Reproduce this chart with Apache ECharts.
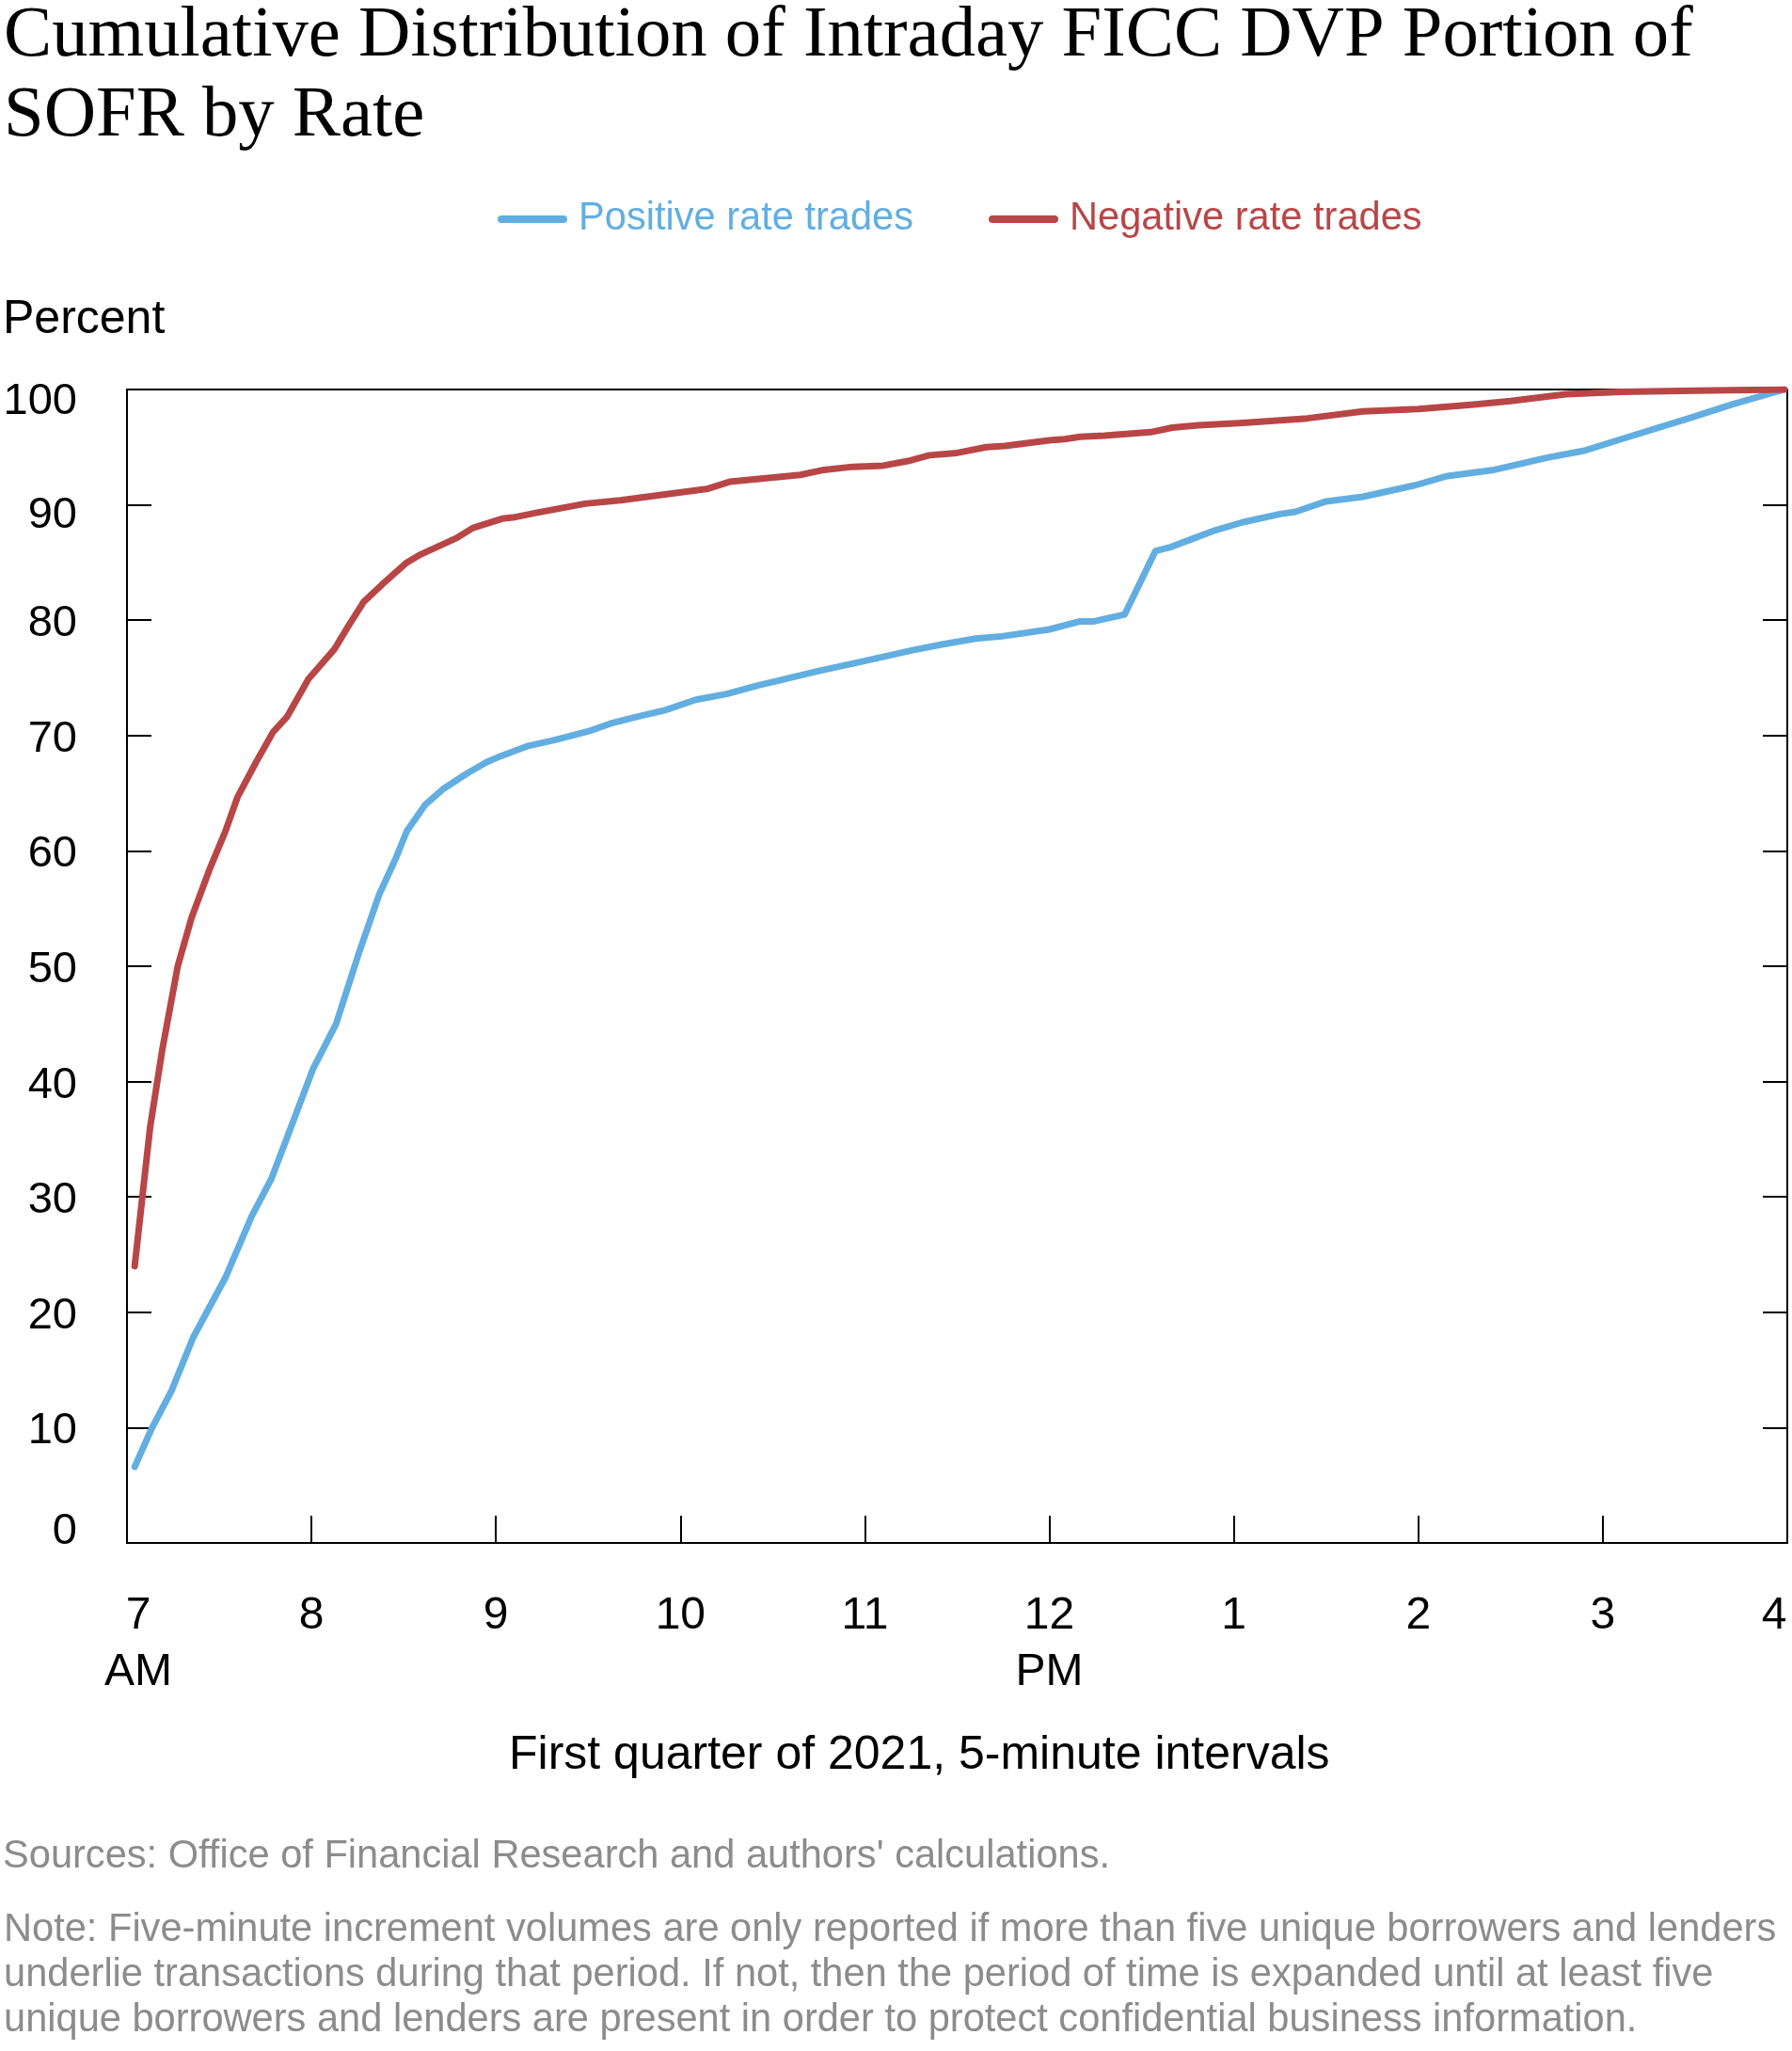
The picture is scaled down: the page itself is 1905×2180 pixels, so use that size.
<!DOCTYPE html>
<html>
<head>
<meta charset="utf-8">
<script src="https://cdn.jsdelivr.net/npm/echarts@6/dist/echarts.min.js"></script>
<style>
html,body{margin:0;padding:0;background:#fff;overflow:hidden;}
#chart{width:1905px;height:2180px;}
</style>
</head>
<body>
<div id="chart"></div>
<script>
// ---- data (minutes after 7:00 AM, cumulative percent) ----
const negTimes  = [2.5, 7.5, 11.5, 16.5, 21, 27, 32, 36, 42, 47.5, 52, 59, 67.5, 72, 77, 83, 91, 95.5, 107, 112.5, 122, 125.5, 133, 149, 160.5, 175, 189, 196, 219, 226, 236, 246, 254, 261, 270, 279.5, 285.5, 300, 305, 310, 318, 333, 340, 348.5, 363, 384, 402, 420, 438, 450, 468, 486, 510, 539];
const negValues = [24.0, 36.0, 42.8, 50.0, 54.2, 58.5, 61.7, 64.7, 67.7, 70.3, 71.6, 74.9, 77.5, 79.5, 81.6, 83.1, 85.0, 85.7, 87.1, 88.0, 88.8, 88.9, 89.3, 90.1, 90.4, 90.9, 91.4, 92.0, 92.6, 93.0, 93.3, 93.4, 93.8, 94.3, 94.5, 95.0, 95.1, 95.6, 95.7, 95.9, 96.0, 96.3, 96.7, 96.9, 97.1, 97.5, 98.1, 98.3, 98.7, 99.0, 99.6, 99.8, 99.9, 100];
const posTimes  = [2.5, 8, 14.5, 21.5, 32, 40.5, 47, 53, 60.5, 68, 75.5, 82, 87.5, 91, 97, 103, 110.5, 117, 120.5, 130.5, 139, 150.5, 158, 165.5, 175, 185, 195, 206, 211, 225, 237, 255.5, 265, 276, 284.5, 300, 310, 314.5, 324.5, 334.5, 339, 346, 354, 363, 375, 380, 390, 402, 419, 429.5, 444, 462, 474, 486, 508, 522, 539];
const posValues = [6.6, 9.9, 13.2, 17.8, 23.0, 28.3, 31.6, 35.8, 41.1, 45.0, 51.2, 56.2, 59.4, 61.7, 64.0, 65.4, 66.7, 67.7, 68.1, 69.1, 69.6, 70.4, 71.1, 71.6, 72.2, 73.1, 73.6, 74.4, 74.7, 75.6, 76.3, 77.4, 77.9, 78.4, 78.6, 79.2, 79.9, 79.9, 80.5, 86.0, 86.3, 87.0, 87.8, 88.5, 89.2, 89.4, 90.3, 90.7, 91.7, 92.5, 93.0, 94.1, 94.7, 95.7, 97.5, 98.7, 100];
const hourLabels   = ['7', '8', '9', '10', '11', '12', '1', '2', '3', '4'];
const periodLabels = ['AM', '', '', '', '', 'PM', '', '', '', ''];
const seriesNames  = ['Positive rate trades', 'Negative rate trades'];

const BLUE = '#62aee1';
const RED = '#b94646';
const GRAY = '#8c8c8c';
const SANS = 'Liberation Sans, Arial, sans-serif';
const SERIF = 'Liberation Serif, Times New Roman, serif';

const pair = (ts, vs) => ts.map((t, i) => [t, vs[i]]);

const chart = echarts.init(document.getElementById('chart'), null, {renderer: 'canvas'});

const xRich = {
  f: {fontSize: 48, fontFamily: SANS, color: '#000', lineHeight: 60, padding: [0, 0, 0, 24]},
  l: {fontSize: 48, fontFamily: SANS, color: '#000', lineHeight: 60, padding: [0, 28, 0, 0]},
  n: {fontSize: 48, fontFamily: SANS, color: '#000', lineHeight: 60}
};
const yRich = {
  t: {fontSize: 47, fontFamily: SANS, color: '#000', padding: [26, 0, 0, 0]},
  u: {fontSize: 47, fontFamily: SANS, color: '#000', padding: [22, 0, 0, 0]},
  m: {fontSize: 47, fontFamily: SANS, color: '#000', padding: [8, 0, 0, 0]},
  b: {fontSize: 47, fontFamily: SANS, color: '#000', padding: [0, 0, 24, 0]}
};

const noteLines = [
  'Note: Five-minute increment volumes are only reported if more than five unique borrowers and lenders',
  'underlie transactions during that period. If not, then the period of time is expanded until at least five',
  'unique borrowers and lenders are present in order to protect confidential business information.'
];

const option = {
  animation: false,
  backgroundColor: '#fff',
  grid: {left: 135, right: 5, top: 414, bottom: 540, outerBoundsMode: 'none', containLabel: false,
         show: true, borderColor: '#000', borderWidth: 2, backgroundColor: 'transparent'},
  legend: {
    left: 524, top: 204,
    itemWidth: 74, itemHeight: 8, itemGap: 80,
    icon: 'path://M4,0 L70,0 A4,4 0 0 1 70,8 L4,8 A4,4 0 0 1 4,0 Z',
    textStyle: {fontSize: 41.6, fontFamily: SANS, lineHeight: 48, padding: [0, 0, 0, 7]},
    data: [
      {name: seriesNames[0], textStyle: {color: BLUE}},
      {name: seriesNames[1], textStyle: {color: RED}}
    ]
  },
  xAxis: {
    type: 'value', min: 0, max: 540, interval: 60,
    axisLine: {show: false},
    axisTick: {show: true, inside: true, length: 29, lineStyle: {color: '#000', width: 2}},
    splitLine: {show: false},
    axisLabel: {
      show: true, margin: 48, showMinLabel: true, showMaxLabel: true,
      formatter: (v) => {
        const i = Math.round(v / 60);
        const s = i === 0 ? 'f' : (i === hourLabels.length - 1 ? 'l' : 'n');
        const h = hourLabels[i], p = periodLabels[i];
        return p ? '{' + s + '|' + h + '}\n{' + s + '|' + p + '}' : '{' + s + '|' + h + '}';
      },
      rich: xRich
    }
  },
  yAxis: [
    {
      type: 'value', min: 0, max: 100, interval: 10, position: 'left',
      axisLine: {show: false},
      axisTick: {show: true, inside: true, length: 26, lineStyle: {color: '#000', width: 2}},
      splitLine: {show: false},
      axisLabel: {
        show: true, margin: 53, showMinLabel: true, showMaxLabel: true,
        formatter: (v) => {
          const s = v === 100 ? 't' : (v === 90 ? 'u' : (v === 0 ? 'b' : 'm'));
          return '{' + s + '|' + v + '}';
        },
        rich: yRich
      }
    },
    {
      type: 'value', min: 0, max: 100, interval: 10, position: 'right',
      axisLine: {show: false},
      axisTick: {show: true, inside: true, length: 26, lineStyle: {color: '#000', width: 2}},
      splitLine: {show: false},
      axisLabel: {show: false}
    }
  ],
  series: [
    {
      name: seriesNames[0], type: 'line', data: pair(posTimes, posValues),
      showSymbol: false, symbol: 'none', smooth: false,
      lineStyle: {color: BLUE, width: 7, cap: 'round', join: 'round'},
      itemStyle: {color: BLUE}
    },
    {
      name: seriesNames[1], type: 'line', data: pair(negTimes, negValues),
      showSymbol: false, symbol: 'none', smooth: false,
      lineStyle: {color: RED, width: 7, cap: 'round', join: 'round'},
      itemStyle: {color: RED}
    }
  ],
  graphic: [
    {type: 'text', left: 4, top: 34.7 - 43 + 5, style: {text: 'Cumulative Distribution of Intraday FICC DVP Portion of\nSOFR by Rate', font: '76.7px ' + SERIF, fill: '#000', lineHeight: 85, verticalAlign: 'top'}},
    {type: 'text', x: 3, y: 340, style: {text: 'Percent', font: '50px ' + SANS, fill: '#000', verticalAlign: 'middle'}},
    {type: 'text', x: 541, y: 1866, style: {text: 'First quarter of 2021, 5-minute intervals', font: '50px ' + SANS, fill: '#000', verticalAlign: 'middle'}},
    {type: 'text', x: 3, y: 1974, style: {text: 'Sources: Office of Financial Research and authors\' calculations.', font: '41.6px ' + SANS, fill: GRAY, verticalAlign: 'middle'}},
    {type: 'text', x: 4, y: 2052, style: {text: noteLines[0], font: '41.6px ' + SANS, fill: GRAY, verticalAlign: 'middle'}},
    {type: 'text', x: 4, y: 2100, style: {text: noteLines[1], font: '41.6px ' + SANS, fill: GRAY, verticalAlign: 'middle'}},
    {type: 'text', x: 4, y: 2148, style: {text: noteLines[2], font: '41.6px ' + SANS, fill: GRAY, verticalAlign: 'middle'}}
  ]
};
chart.setOption(option);
</script>
</body>
</html>
